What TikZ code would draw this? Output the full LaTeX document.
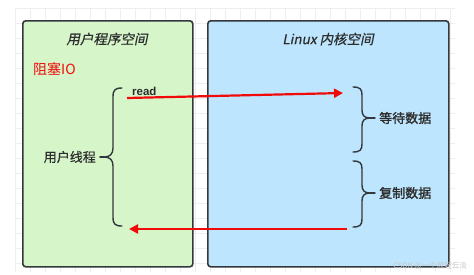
\documentclass[tikz,border=0pt]{standalone}
\usepackage{fontspec}
\setmainfont{Liberation Sans}
\newfontfamily\cjk{Noto Sans CJK SC}[FakeBold=0.6]
\newfontfamily\cjkplain{Noto Sans CJK SC}
\newfontfamily\cjkit{Noto Sans CJK SC}[FakeSlant=0.2,FakeBold=0.6]
\newfontfamily\cjkbold{Noto Sans CJK SC}[FakeBold=1.4]
\usetikzlibrary{arrows.meta}
\definecolor{gridc}{RGB}{238,238,238}
\definecolor{greenfill}{RGB}{214,246,202}
\definecolor{bluefill}{RGB}{189,229,253}
\definecolor{edgec}{RGB}{51,56,60}
\definecolor{redc}{RGB}{240,10,10}
\definecolor{textc}{RGB}{45,45,45}
\tikzset{
  panel/.style={draw=edgec, line width=1.6pt, rounded corners=3pt},
  bracec/.style={draw=edgec, line width=1.4pt, line cap=round},
  redarrow/.style={draw=redc, line width=2.2pt, -{Triangle[length=9pt,width=9pt]}},
  lbl/.style={font=\cjk\fontsize{13}{15}\selectfont, text=textc, inner sep=0pt},
  boldlbl/.style={font=\cjkbold\fontsize{13}{15}\selectfont, text=textc, inner sep=0pt},
  title/.style={font=\cjkit\fontsize{13.5}{15}\selectfont, text=textc, inner sep=0pt},
}
\begin{document}
\begin{tikzpicture}[x=1pt,y=-1pt]
\useasboundingbox (0,0) rectangle (474,274);
\fill[white] (0,0) rectangle (474,274);
% grid
\foreach \gx in {15,30,...,455} \draw[gridc, line width=0.5pt] (\gx,8) -- (\gx,272);
\foreach \gy in {8,23,...,272} \draw[gridc, line width=0.5pt] (15,\gy) -- (455,\gy);
% panels
\node[panel, fill=greenfill, minimum width=170pt, minimum height=246pt, anchor=north west] (user) at (22,20) {};
\node[panel, fill=bluefill, minimum width=241pt, minimum height=246pt, anchor=north west] (kern) at (207,20) {};
% titles
\node[title] (ut) at (107,39) {用户程序空间};
\node[title] (kt) at (328,39) {Linux 内核空间};
\node[font=\cjkplain\fontsize{14}{16}\selectfont, text=redc, inner sep=0pt, anchor=west] (blk) at (33,69) {阻塞IO};
\node[font=\bfseries\fontsize{11.5}{13}\selectfont, text=textc, inner sep=0pt, anchor=west] (rd) at (132,91) {read};
% left brace
\draw[bracec] (122,88) .. controls (115,88) and (113,90) .. (113,97) -- (113,148)
  .. controls (113,154) and (110,157) .. (104,157)
  .. controls (110,157) and (113,160) .. (113,166) -- (113,217)
  .. controls (113,224) and (115,226) .. (122,226);
\draw[bracec] (104,157) -- (100,157);
\node[lbl, anchor=east] (ut2) at (96,157) {用户线程};
% right braces
\draw[bracec] (353,87) .. controls (360,87) and (362,89) .. (362,95) -- (362,110)
  .. controls (362,115) and (364,118) .. (370,118)
  .. controls (364,118) and (362,121) .. (362,126) -- (362,144)
  .. controls (362,150) and (360,152) .. (353,152);
\draw[bracec] (370,118) -- (375,118);
\node[boldlbl, anchor=west] (wait) at (379,118) {等待数据};
\draw[bracec] (353,161) .. controls (360,161) and (362,163) .. (362,169) -- (362,185)
  .. controls (362,190) and (364,193) .. (370,193)
  .. controls (364,193) and (362,196) .. (362,201) -- (362,219)
  .. controls (362,225) and (360,227) .. (353,227);
\draw[bracec] (370,193) -- (375,193);
\node[boldlbl, anchor=west] (copy) at (379,193) {复制数据};
% arrows
\coordinate (a1) at (127,98);
\coordinate (a2) at (343,93);
\coordinate (b1) at (347,229);
\coordinate (b2) at (129,229);
\draw[redarrow] (a1) -- (a2);
\draw[redarrow] (b1) -- (b2);
% watermark
\node[font=\cjkplain\fontsize{7.5}{9}\selectfont, text=gray!45, inner sep=0pt, anchor=east] (wm) at (467,266) {CSDN @一个风轻云淡};
\end{tikzpicture}
\end{document}
